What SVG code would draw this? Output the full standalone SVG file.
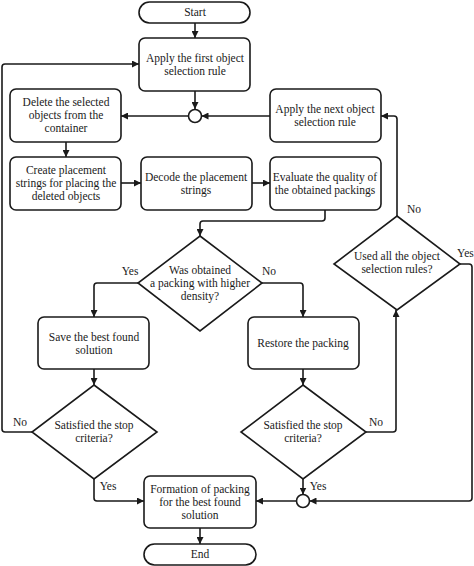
<svg xmlns="http://www.w3.org/2000/svg" width="474" height="566" viewBox="0 0 474 566">
<defs>
<marker id="arr" viewBox="0 0 10 10" refX="10" refY="5" markerWidth="7" markerHeight="7" markerUnits="userSpaceOnUse" orient="auto">
<path d="M0,0 L10,5 L0,10 z" fill="#1a1a1a"/>
</marker>
<style>
.n{fill:#fff;stroke:#1a1a1a;stroke-width:1.6}
.c{fill:none;stroke:#1a1a1a;stroke-width:1.6}
text{font-family:'Liberation Serif','Times New Roman',serif;font-size:11.5px;fill:#1a1a1a;text-anchor:middle}
.l{text-anchor:start}
</style>
</defs>
<rect width="474" height="566" fill="#fff"/>
<g id="connectors">
<path class="c" d="M195,23 V38" marker-end="url(#arr)"/>
<path class="c" d="M195,91 V109" marker-end="url(#arr)"/>
<path class="c" d="M188.5,116 H121" marker-end="url(#arr)"/>
<path class="c" d="M270,116 H201.5" marker-end="url(#arr)"/>
<path class="c" d="M66,142 V157" marker-end="url(#arr)"/>
<path class="c" d="M121,183 H141" marker-end="url(#arr)"/>
<path class="c" d="M252,183 H270" marker-end="url(#arr)"/>
<path class="c" d="M325,210 V218 Q325,221 322,221 H203 Q200,221 200,224 V236" marker-end="url(#arr)"/>
<path class="c" d="M138,283 H97 Q94,283 94,286 V317" marker-end="url(#arr)"/>
<path class="c" d="M262,283 H300 Q303,283 303,286 V317" marker-end="url(#arr)"/>
<path class="c" d="M94,369 V385" marker-end="url(#arr)"/>
<path class="c" d="M303,369 V385" marker-end="url(#arr)"/>
<path class="c" d="M32,432 H5 Q2,432 2,429 V67 Q2,64 5,64 H139" marker-end="url(#arr)"/>
<path class="c" d="M94,479 V498 Q94,501 97,501 H144" marker-end="url(#arr)"/>
<path class="c" d="M303,479 V494.5" marker-end="url(#arr)"/>
<path class="c" d="M296.5,501 H256" marker-end="url(#arr)"/>
<path class="c" d="M460,264 H469 Q472,264 472,267 V498 Q472,501 469,501 H309.5" marker-end="url(#arr)"/>
<path class="c" d="M366,432 H393 Q396,432 396,429 V310" marker-end="url(#arr)"/>
<path class="c" d="M397,216 V119 Q397,116 394,116 H381" marker-end="url(#arr)"/>
<path class="c" d="M200,528 V544" marker-end="url(#arr)"/>
</g>
<g font-family="Liberation Serif, serif">
<g id="start"><rect class="n" x="139" y="2" width="111" height="21" rx="10.5"/><text x="195" y="16">Start</text></g>
<g id="first-rule"><rect class="n" x="139" y="38" width="111" height="53" rx="6"/><text x="195" y="62">Apply the first object</text><text x="195" y="75">selection rule</text></g>
<g id="junction1"><circle class="n" cx="195" cy="116" r="6.5"/></g>
<g id="delete"><rect class="n" x="10" y="89" width="111" height="53" rx="6"/><text x="66" y="106">Delete the selected</text><text x="66" y="119">objects from the</text><text x="66" y="132">container</text></g>
<g id="next-rule"><rect class="n" x="270" y="89" width="111" height="53" rx="6"/><text x="325" y="113">Apply the next object</text><text x="325" y="126">selection rule</text></g>
<g id="create"><rect class="n" x="10" y="157" width="111" height="53" rx="6"/><text x="66" y="174">Create placement</text><text x="66" y="187">strings for placing the</text><text x="66" y="200">deleted objects</text></g>
<g id="decode"><rect class="n" x="141" y="157" width="111" height="53" rx="6"/><text x="196" y="181">Decode the placement</text><text x="196" y="194">strings</text></g>
<g id="evaluate"><rect class="n" x="270" y="157" width="111" height="53" rx="6"/><text x="325" y="181">Evaluate the quality of</text><text x="325" y="194">the obtained packings</text></g>
<g id="density"><path class="n" d="M200,236 L262,283 L200,331 L138,283 z"/><text x="200" y="274">Was obtained</text><text x="200" y="287">a packing with higher</text><text x="200" y="300">density?</text></g>
<g id="used-all"><path class="n" d="M397,216 L460,264 L397,310 L334,264 z"/><text x="397" y="260">Used all the object</text><text x="397" y="273">selection rules?</text></g>
<g id="save"><rect class="n" x="38" y="317" width="111" height="52" rx="6"/><text x="94" y="341">Save the best found</text><text x="94" y="354">solution</text></g>
<g id="restore"><rect class="n" x="248" y="317" width="111" height="52" rx="6"/><text x="303" y="347">Restore the packing</text></g>
<g id="stop-left"><path class="n" d="M94,385 L157,432 L94,479 L32,432 z"/><text x="94" y="429">Satisfied the stop</text><text x="94" y="442">criteria?</text></g>
<g id="stop-right"><path class="n" d="M303,385 L366,432 L303,479 L241,432 z"/><text x="303" y="429">Satisfied the stop</text><text x="303" y="442">criteria?</text></g>
<g id="junction2"><circle class="n" cx="303" cy="501" r="6.5"/></g>
<g id="formation"><rect class="n" x="144" y="476" width="112" height="52" rx="6"/><text x="200" y="493">Formation of packing</text><text x="200" y="506">for the best found</text><text x="200" y="519">solution</text></g>
<g id="end"><rect class="n" x="144" y="544" width="112" height="21" rx="10.5"/><text x="200" y="558">End</text></g>
<g id="labels">
<text x="130" y="275">Yes</text>
<text x="269" y="275">No</text>
<text x="407" y="213" class="l">No</text>
<text x="457" y="257" class="l">Yes</text>
<text x="20" y="426">No</text>
<text x="108" y="490">Yes</text>
<text x="376" y="426">No</text>
<text x="318" y="490">Yes</text>
</g>
</g>
</svg>
